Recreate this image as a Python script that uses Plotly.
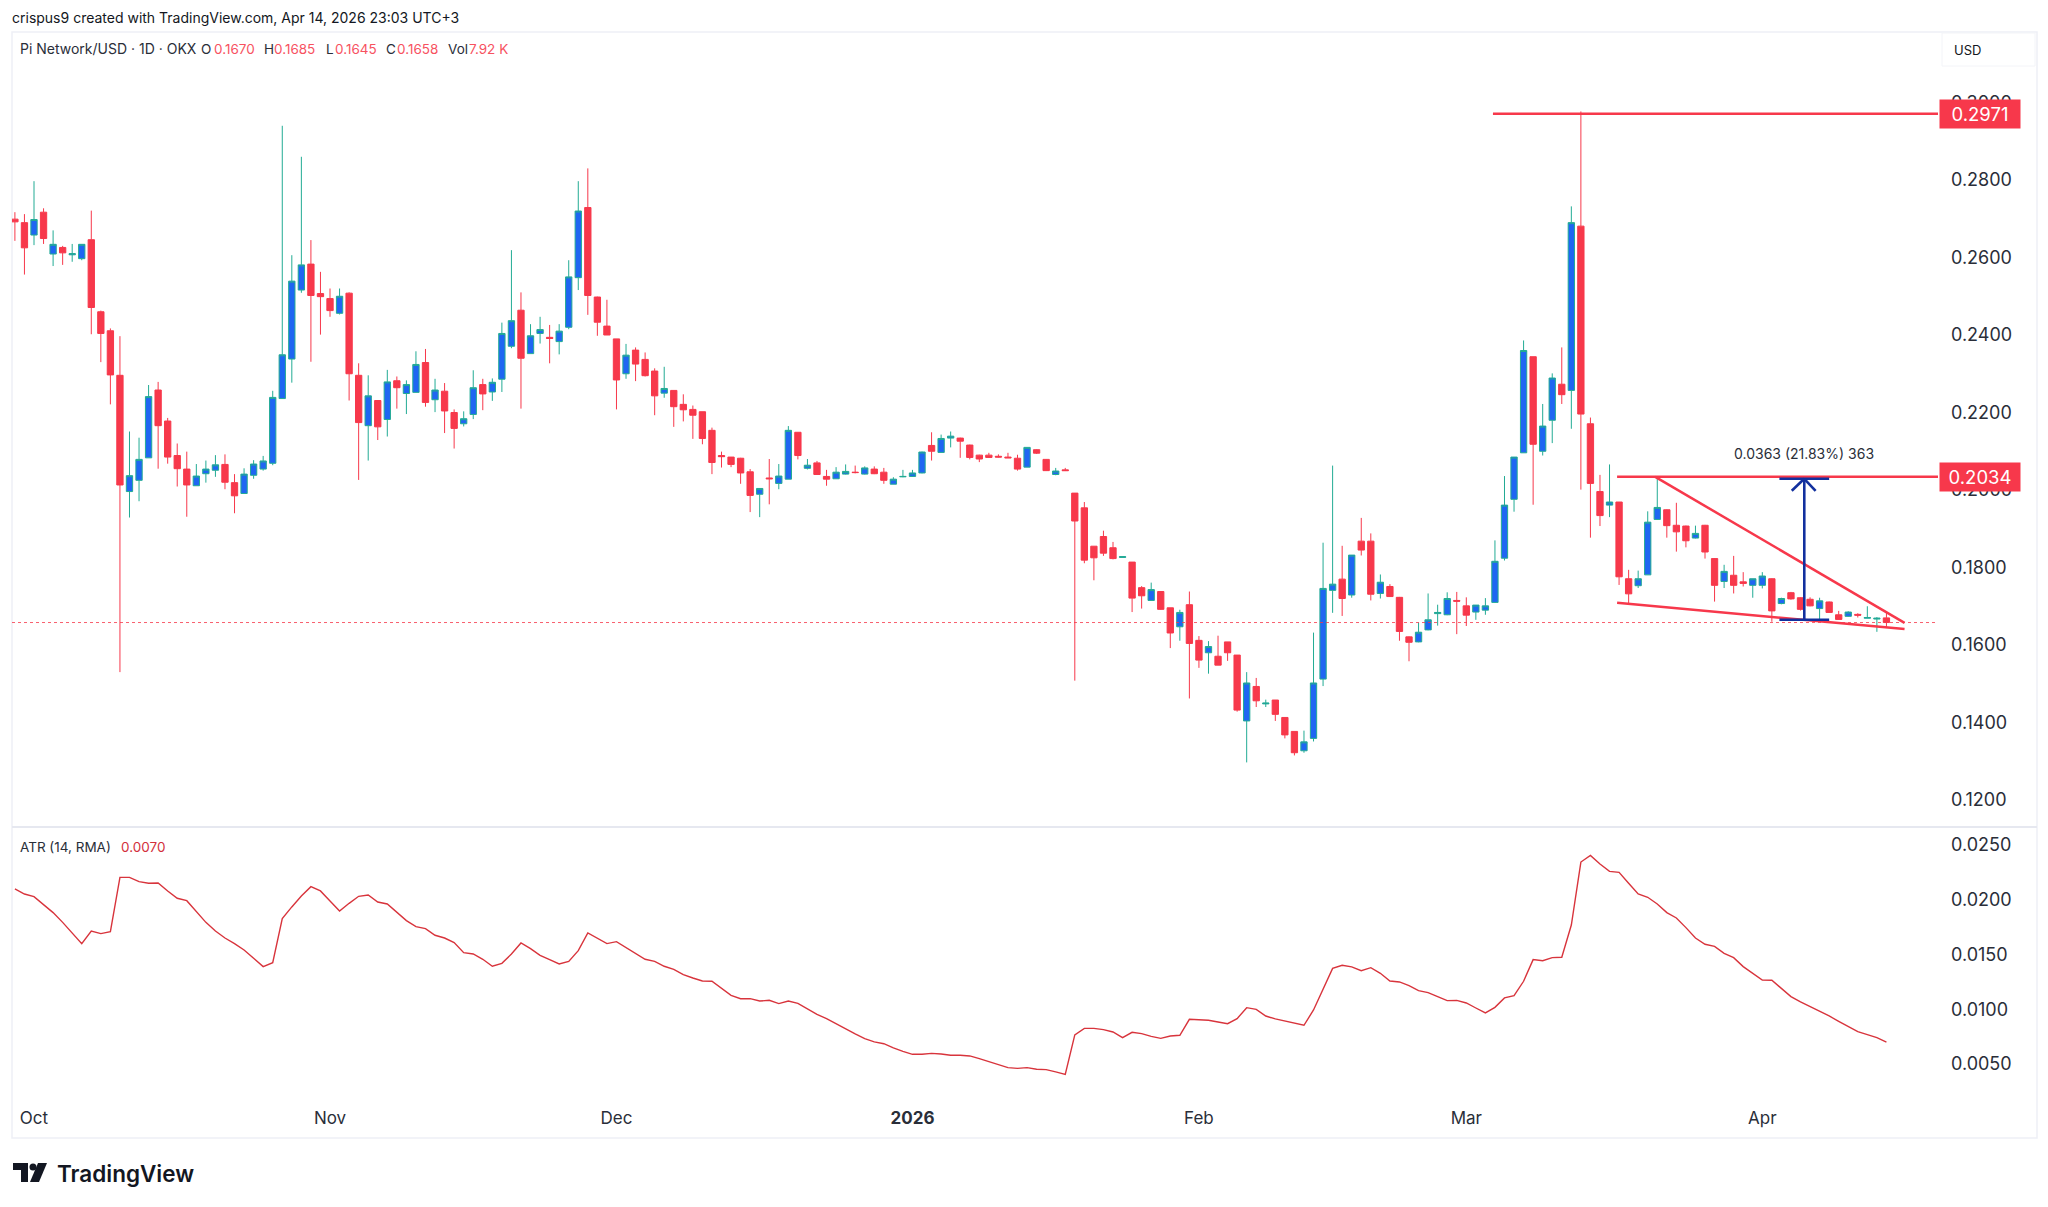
import pandas as pd
import plotly.graph_objects as go
from plotly.subplots import make_subplots

W, H = 2048, 1207
RED = "#F7384B"
BLUE = "#1F66F2"
GREEN = "#22AB94"
NAVY = "#12309E"
TEXT = "#2A2E39"

missing_day = "2026-01-18"
days = pd.date_range("2025-09-29", "2026-04-14")
dates = [d.strftime("%Y-%m-%d") for d in days if d.strftime("%Y-%m-%d") != missing_day]

opens = [
    0.2699, 0.2690, 0.2658, 0.2717, 0.2609, 0.2626, 0.2607, 0.2597, 0.2646, 0.2460,
    0.2411, 0.2296, 0.1996, 0.2025, 0.2083, 0.2258, 0.2178, 0.2089, 0.2054, 0.2011,
    0.2042, 0.2051, 0.2066, 0.2019, 0.1991, 0.2038, 0.2054, 0.2069, 0.2236, 0.2338,
    0.2516, 0.2583, 0.2507, 0.2494, 0.2456, 0.2508, 0.2296, 0.2166, 0.2231, 0.2182,
    0.2282, 0.2249, 0.2252, 0.2329, 0.2233, 0.2255, 0.2200, 0.2171, 0.2195, 0.2272,
    0.2253, 0.2286, 0.2371, 0.2464, 0.2352, 0.2404, 0.2394, 0.2383, 0.2420, 0.2548,
    0.2729, 0.2498, 0.2423, 0.2390, 0.2300, 0.2361, 0.2337, 0.2307, 0.2250, 0.2257,
    0.2221, 0.2208, 0.2202, 0.2154, 0.2089, 0.2085, 0.2082, 0.2047, 0.1989, 0.2031,
    0.2017, 0.2028, 0.2149, 0.2056, 0.2070, 0.2035, 0.2029, 0.2041, 0.2046, 0.2041,
    0.2054, 0.2046, 0.2015, 0.2034, 0.2035, 0.2044, 0.2115, 0.2097, 0.2134, 0.2134,
    0.2116, 0.2090, 0.2090, 0.2087, 0.2085, 0.2082, 0.2059, 0.2104, 0.2079, 0.2040,
    0.2052, 0.1992, 0.1954, 0.1855, 0.1880, 0.1851, 0.1826, 0.1814, 0.1748, 0.1715,
    0.1738, 0.1696, 0.1647, 0.1704, 0.1612, 0.1580, 0.1571, 0.1608, 0.1574, 0.1404,
    0.1493, 0.1448, 0.1458, 0.1413, 0.1377, 0.1327, 0.1359, 0.1512, 0.1741, 0.1770,
    0.1729, 0.1868, 0.1868, 0.1733, 0.1751, 0.1723, 0.1621, 0.1608, 0.1639, 0.1681,
    0.1678, 0.1715, 0.1701, 0.1685, 0.1690, 0.1710, 0.1824, 0.1976, 0.2096, 0.2344,
    0.2100, 0.2180, 0.2273, 0.2257, 0.2681, 0.2171, 0.1996, 0.1961, 0.1969, 0.1771,
    0.1753, 0.1781, 0.1924, 0.1949, 0.1909, 0.1907, 0.1876, 0.1909, 0.1823, 0.1764,
    0.1780, 0.1763, 0.1754, 0.1754, 0.1771, 0.1707, 0.1735, 0.1722, 0.1718, 0.1694,
    0.1711, 0.1678, 0.1674, 0.1679, 0.1669, 0.1667, 0.1670,
]
highs = [
    0.2717, 0.2712, 0.2797, 0.2727, 0.2670, 0.2630, 0.2635, 0.2634, 0.2721, 0.2463,
    0.2417, 0.2397, 0.2151, 0.2135, 0.2271, 0.2279, 0.2186, 0.2120, 0.2099, 0.2067,
    0.2076, 0.2090, 0.2092, 0.2041, 0.2056, 0.2077, 0.2088, 0.2256, 0.2940, 0.2606,
    0.2860, 0.2645, 0.2563, 0.2520, 0.2520, 0.2510, 0.2327, 0.2296, 0.2232, 0.2310,
    0.2293, 0.2283, 0.2358, 0.2364, 0.2287, 0.2276, 0.2208, 0.2203, 0.2309, 0.2287,
    0.2288, 0.2432, 0.2619, 0.2510, 0.2428, 0.2447, 0.2426, 0.2428, 0.2593, 0.2797,
    0.2830, 0.2499, 0.2491, 0.2390, 0.2377, 0.2368, 0.2355, 0.2314, 0.2318, 0.2257,
    0.2247, 0.2218, 0.2202, 0.2161, 0.2099, 0.2085, 0.2083, 0.2054, 0.2004, 0.2080,
    0.2067, 0.2165, 0.2149, 0.2080, 0.2075, 0.2052, 0.2059, 0.2066, 0.2063, 0.2061,
    0.2061, 0.2057, 0.2033, 0.2052, 0.2052, 0.2099, 0.2149, 0.2143, 0.2151, 0.2135,
    0.2117, 0.2091, 0.2096, 0.2092, 0.2096, 0.2091, 0.2110, 0.2105, 0.2080, 0.2057,
    0.2057, 0.1992, 0.1969, 0.1855, 0.1895, 0.1866, 0.1829, 0.1814, 0.1752, 0.1761,
    0.1738, 0.1696, 0.1691, 0.1738, 0.1623, 0.1610, 0.1624, 0.1608, 0.1574, 0.1530,
    0.1515, 0.1459, 0.1458, 0.1413, 0.1377, 0.1379, 0.1632, 0.1864, 0.2063, 0.1856,
    0.1832, 0.1928, 0.1888, 0.1782, 0.1757, 0.1724, 0.1622, 0.1658, 0.1733, 0.1704,
    0.1736, 0.1737, 0.1723, 0.1703, 0.1721, 0.1870, 0.2036, 0.2085, 0.2386, 0.2344,
    0.2222, 0.2301, 0.2368, 0.2732, 0.2977, 0.2187, 0.2039, 0.2066, 0.1969, 0.1794,
    0.1792, 0.1945, 0.2034, 0.1950, 0.1967, 0.1908, 0.1908, 0.1910, 0.1824, 0.1807,
    0.1830, 0.1788, 0.1771, 0.1788, 0.1772, 0.1722, 0.1737, 0.1723, 0.1723, 0.1722,
    0.1712, 0.1688, 0.1687, 0.1682, 0.1700, 0.1672, 0.1685,
]
lows = [
    0.2643, 0.2556, 0.2632, 0.2635, 0.2578, 0.2581, 0.2589, 0.2593, 0.2402, 0.2330,
    0.2221, 0.1530, 0.1929, 0.1971, 0.2083, 0.2055, 0.2068, 0.2009, 0.1931, 0.2011,
    0.2019, 0.2034, 0.2002, 0.1940, 0.1991, 0.2029, 0.2050, 0.2064, 0.2236, 0.2277,
    0.2509, 0.2331, 0.2401, 0.2447, 0.2453, 0.2231, 0.2026, 0.2076, 0.2129, 0.2138,
    0.2210, 0.2196, 0.2252, 0.2215, 0.2201, 0.2147, 0.2107, 0.2164, 0.2183, 0.2206,
    0.2230, 0.2253, 0.2366, 0.2210, 0.2352, 0.2378, 0.2327, 0.2350, 0.2415, 0.2516,
    0.2452, 0.2398, 0.2400, 0.2208, 0.2287, 0.2281, 0.2293, 0.2193, 0.2238, 0.2163,
    0.2177, 0.2132, 0.2118, 0.2041, 0.2058, 0.2059, 0.2016, 0.1943, 0.1930, 0.1963,
    0.2002, 0.2028, 0.2079, 0.2053, 0.2040, 0.2011, 0.2029, 0.2040, 0.2043, 0.2040,
    0.2041, 0.2016, 0.2015, 0.2033, 0.2034, 0.2043, 0.2076, 0.2097, 0.2110, 0.2083,
    0.2079, 0.2072, 0.2083, 0.2084, 0.2083, 0.2050, 0.2059, 0.2093, 0.2049, 0.2038,
    0.2049, 0.1508, 0.1811, 0.1767, 0.1830, 0.1821, 0.1826, 0.1685, 0.1694, 0.1715,
    0.1691, 0.1592, 0.1611, 0.1462, 0.1541, 0.1526, 0.1548, 0.1559, 0.1428, 0.1297,
    0.1440, 0.1440, 0.1404, 0.1359, 0.1315, 0.1322, 0.1351, 0.1494, 0.1683, 0.1675,
    0.1722, 0.1831, 0.1715, 0.1720, 0.1724, 0.1611, 0.1558, 0.1607, 0.1638, 0.1650,
    0.1677, 0.1628, 0.1649, 0.1665, 0.1678, 0.1709, 0.1818, 0.1944, 0.2096, 0.1962,
    0.2089, 0.2121, 0.2222, 0.2158, 0.2001, 0.1877, 0.1907, 0.1930, 0.1755, 0.1704,
    0.1747, 0.1781, 0.1924, 0.1877, 0.1841, 0.1852, 0.1875, 0.1823, 0.1712, 0.1747,
    0.1733, 0.1751, 0.1722, 0.1746, 0.1660, 0.1705, 0.1717, 0.1689, 0.1700, 0.1665,
    0.1683, 0.1665, 0.1673, 0.1671, 0.1669, 0.1634, 0.1645,
]
closes = [
    0.2692, 0.2625, 0.2698, 0.2649, 0.2634, 0.2612, 0.2610, 0.2634, 0.2471, 0.2404,
    0.2297, 0.2013, 0.2037, 0.2079, 0.2241, 0.2166, 0.2085, 0.2055, 0.2013, 0.2036,
    0.2054, 0.2065, 0.2020, 0.1985, 0.2041, 0.2067, 0.2075, 0.2239, 0.2349, 0.2539,
    0.2581, 0.2502, 0.2499, 0.2463, 0.2500, 0.2300, 0.2174, 0.2243, 0.2163, 0.2279,
    0.2264, 0.2272, 0.2324, 0.2226, 0.2258, 0.2204, 0.2159, 0.2184, 0.2264, 0.2248,
    0.2278, 0.2404, 0.2437, 0.2340, 0.2398, 0.2414, 0.2391, 0.2410, 0.2550, 0.2720,
    0.2502, 0.2433, 0.2400, 0.2284, 0.2348, 0.2325, 0.2295, 0.2243, 0.2262, 0.2215,
    0.2207, 0.2193, 0.2133, 0.2071, 0.2086, 0.2066, 0.2044, 0.1986, 0.2004, 0.2029,
    0.2036, 0.2154, 0.2089, 0.2064, 0.2040, 0.2028, 0.2046, 0.2048, 0.2045, 0.2057,
    0.2042, 0.2025, 0.2028, 0.2035, 0.2044, 0.2098, 0.2100, 0.2133, 0.2139, 0.2126,
    0.2084, 0.2080, 0.2084, 0.2085, 0.2083, 0.2054, 0.2110, 0.2095, 0.2050, 0.2049,
    0.2050, 0.1920, 0.1819, 0.1825, 0.1837, 0.1823, 0.1828, 0.1721, 0.1727, 0.1743,
    0.1692, 0.1631, 0.1684, 0.1604, 0.1561, 0.1596, 0.1548, 0.1580, 0.1432, 0.1502,
    0.1456, 0.1450, 0.1421, 0.1368, 0.1322, 0.1350, 0.1502, 0.1746, 0.1757, 0.1720,
    0.1832, 0.1845, 0.1731, 0.1762, 0.1725, 0.1635, 0.1607, 0.1633, 0.1665, 0.1684,
    0.1720, 0.1713, 0.1677, 0.1703, 0.1701, 0.1816, 0.1961, 0.2085, 0.2360, 0.2118,
    0.2165, 0.2289, 0.2246, 0.2690, 0.2196, 0.2017, 0.1934, 0.1969, 0.1776, 0.1732,
    0.1771, 0.1917, 0.1955, 0.1908, 0.1892, 0.1869, 0.1888, 0.1840, 0.1754, 0.1790,
    0.1754, 0.1759, 0.1771, 0.1778, 0.1688, 0.1720, 0.1719, 0.1692, 0.1701, 0.1714,
    0.1684, 0.1666, 0.1685, 0.1677, 0.1671, 0.1669, 0.1658,
]
atr = [
    0.02098, 0.02052, 0.02028, 0.01952, 0.01882, 0.01793, 0.01699, 0.01599, 0.01714, 0.01690,
    0.01708, 0.02204, 0.02204, 0.02165, 0.02150, 0.02153, 0.02080, 0.02013, 0.01991, 0.01891,
    0.01793, 0.01714, 0.01650, 0.01599, 0.01541, 0.01465, 0.01389, 0.01425, 0.01827, 0.01934,
    0.02034, 0.02119, 0.02080, 0.01988, 0.01897, 0.01967, 0.02031, 0.02043, 0.01979, 0.01961,
    0.01882, 0.01809, 0.01754, 0.01736, 0.01675, 0.01650, 0.01608, 0.01516, 0.01504, 0.01456,
    0.01392, 0.01419, 0.01504, 0.01605, 0.01553, 0.01492, 0.01453, 0.01413, 0.01437, 0.01535,
    0.01696, 0.01650, 0.01599, 0.01617, 0.01565, 0.01510, 0.01456, 0.01437, 0.01392, 0.01364,
    0.01316, 0.01285, 0.01258, 0.01255, 0.01191, 0.01127, 0.01096, 0.01096, 0.01075, 0.01081,
    0.01051, 0.01075, 0.01054, 0.01002, 0.00953, 0.00914, 0.00865, 0.00819, 0.00774, 0.00731,
    0.00701, 0.00685, 0.00646, 0.00615, 0.00588, 0.00588, 0.00597, 0.00591, 0.00579, 0.00579,
    0.00573, 0.00548, 0.00521, 0.00494, 0.00466, 0.00460, 0.00466, 0.00451, 0.00448, 0.00427,
    0.00405, 0.00765, 0.00825, 0.00825, 0.00813, 0.00792, 0.00740, 0.00789, 0.00777, 0.00752,
    0.00734, 0.00755, 0.00762, 0.00908, 0.00902, 0.00899, 0.00883, 0.00868, 0.00914, 0.01014,
    0.00999, 0.00938, 0.00911, 0.00892, 0.00871, 0.00853, 0.00993, 0.01191, 0.01373, 0.01401,
    0.01386, 0.01352, 0.01379, 0.01328, 0.01258, 0.01249, 0.01215, 0.01169, 0.01151, 0.01115,
    0.01078, 0.01081, 0.01057, 0.01011, 0.00966, 0.01017, 0.01103, 0.01124, 0.01255, 0.01453,
    0.01443, 0.01471, 0.01474, 0.01769, 0.02344, 0.02405, 0.02326, 0.02259, 0.02250, 0.02150,
    0.02052, 0.02022, 0.01961, 0.01882, 0.01833, 0.01745, 0.01650, 0.01593, 0.01574, 0.01510,
    0.01471, 0.01389, 0.01328, 0.01267, 0.01264, 0.01191, 0.01115, 0.01066, 0.01023, 0.00987,
    0.00938, 0.00889, 0.00841, 0.00795, 0.00768, 0.00740, 0.00700,
]
assert len(dates) == len(opens) == len(highs) == len(lows) == len(closes) == len(atr)

price_ticks = [0.12, 0.14, 0.16, 0.18, 0.20, 0.22, 0.24, 0.26, 0.28, 0.30]
atr_ticks = [0.005, 0.010, 0.015, 0.020, 0.025]
month_ticks = ["2025-10-01", "2025-11-01", "2025-12-01", "2026-01-01", "2026-02-01", "2026-03-01", "2026-04-01"]
month_labels = ["Oct", "Nov", "Dec", "<b>2026</b>", "Feb", "Mar", "Apr"]

# drawings on the chart
last_close = 0.1658
high_level = 0.2971
upper_level = 0.2034
wedge_top = (["2026-03-20 19:00", "2026-04-15 21:30"], [0.2034, 0.1657])
wedge_bottom = (["2026-03-16 19:00", "2026-04-15 21:30"], [0.1709, 0.1641])
measure_x = "2026-04-05 09:30"
measure_from, measure_to = 0.1665, 0.2029
measure_left, measure_right = "2026-04-02 19:00", "2026-04-08 00:00"
head_left, head_right = "2026-04-04 02:00", "2026-04-06 14:00"
head_y = 0.1998
x_start, x_end = "2025-09-28 16:42", "2026-04-19 09:36"


def px(x):
    return x / W


def py(y):
    return 1 - y / H


fig = make_subplots(rows=2, cols=1, shared_xaxes=True)

fig.add_trace(go.Candlestick(x=dates, open=opens, high=highs, low=lows, close=closes,
                             increasing=dict(line=dict(color=GREEN, width=1), fillcolor=BLUE),
                             decreasing=dict(line=dict(color=RED, width=1), fillcolor=RED),
                             hoverinfo="skip", showlegend=False), row=1, col=1)
fig.add_trace(go.Scatter(x=dates, y=atr, mode="lines", line=dict(color="#D8343C", width=1.4),
                         hoverinfo="skip", showlegend=False), row=2, col=1)

# frame around the panes
frame = "#EEF0F6"
fig.add_shape(type="rect", xref="paper", yref="paper", x0=px(12), x1=px(2037), y0=py(1138), y1=py(32),
              line=dict(color=frame, width=1.5), layer="below")
fig.add_shape(type="line", xref="paper", yref="paper", x0=px(12), x1=px(2037), y0=py(827), y1=py(827),
              line=dict(color="#E6E8F0", width=2), layer="below")
fig.add_shape(type="rect", xref="paper", yref="paper", x0=px(1942), x1=px(2035), y0=py(66), y1=py(33),
              line=dict(color="#F3F4F8", width=1), layer="below")

# price lines and wedge
fig.add_shape(type="line", xref="x domain", yref="y", x0=0, x1=1, y0=last_close, y1=last_close,
              opacity=0.8, line=dict(color=RED, width=1, dash="dot"))
for start, level in [("2026-03-03 19:00", high_level), ("2026-03-16 19:00", upper_level)]:
    fig.add_shape(type="line", xref="x", yref="y", x0=start, x1=x_end, y0=level, y1=level,
                  line=dict(color=RED, width=2.5))
for xs, ys in [wedge_top, wedge_bottom]:
    fig.add_shape(type="line", xref="x", yref="y", x0=xs[0], x1=xs[1], y0=ys[0], y1=ys[1],
                  line=dict(color=RED, width=2.5))

# measuring arrow
navy = dict(color=NAVY, width=2.6)
fig.add_shape(type="line", xref="x", yref="y", x0=measure_x, x1=measure_x, y0=measure_from, y1=measure_to, line=navy)
for level in [measure_from, measure_to]:
    fig.add_shape(type="line", xref="x", yref="y", x0=measure_left, x1=measure_right, y0=level, y1=level, line=navy)
for side in [head_left, head_right]:
    fig.add_shape(type="line", xref="x", yref="y", x0=side, x1=measure_x, y0=head_y, y1=measure_to, line=navy)

# TradingView mark, bottom left
for path in ["M 13 1163 L 28 1163 L 28 1182 L 21 1182 L 21 1170 L 13 1170 Z",
             "M 38 1163 L 47 1163 L 39 1182 L 30 1182 Z"]:
    parts = path.split()
    out = []
    i = 0
    while i < len(parts):
        if parts[i] in "ML":
            out.append(f"{parts[i]} {px(float(parts[i + 1]))} {py(float(parts[i + 2]))}")
            i += 3
        else:
            out.append(parts[i])
            i += 1
    fig.add_shape(type="path", xref="paper", yref="paper", path=" ".join(out),
                  fillcolor="#131722", line=dict(width=0))
fig.add_shape(type="circle", xref="paper", yref="paper", x0=px(29.5), x1=px(36.5), y0=py(1170.5), y1=py(1163.5),
              fillcolor="#131722", line=dict(width=0))


def note(x, y, text, size=14, color=TEXT, **kw):
    fig.add_annotation(xref="paper", yref="paper", x=px(x), y=py(y), text=text, showarrow=False,
                       xanchor=kw.pop("xanchor", "left"), yanchor="middle",
                       font=dict(family="Inter", size=size, color=color, weight=kw.pop("weight", "normal")), **kw)


legend_red = "#F7525F"
note(10, 18, "crispus9 created with TradingView.com, Apr 14, 2026 23:03 UTC+3", size=14, color="#131722")
note(18, 49, "Pi Network/USD · 1D · OKX", size=14)
for x, label, vx, value in [(199, "O", 212, "0.1670"), (262, "H", 272, "0.1685"), (324, "L", 332.5, "0.1645"),
                            (384, "C", 395, "0.1658"), (446, "Vol", 466.5, "7.92 K")]:
    note(x, 49, label, size=13.5)
    note(vx, 49, value, size=13.5, color=legend_red)
note(18, 847, "ATR (14, RMA)", size=13.5)
note(119, 847, "0.0070", size=13.5, color="#D32F3C")
note(1967, 50, "USD", size=13, xanchor="center", color="#131722")
note(1804, 453, "0.0363 (21.83%) 363", size=14, xanchor="center")
note(55, 1173, "TradingView", size=22.5, color="#131722", weight=600)

# value labels on the price scale
for level in [high_level, upper_level]:
    fig.add_annotation(xref="paper", yref="y", x=px(1939), y=level, text=f"{level:.4f}", showarrow=False,
                       xanchor="left", yanchor="middle", width=78, height=26, align="center", bgcolor=RED,
                       font=dict(family="Inter", size=18.5, color="white"))

fig.update_layout(width=W, height=H, margin=dict(l=0, r=0, t=0, b=0), paper_bgcolor="white", plot_bgcolor="white",
                  hovermode=False, dragmode=False, showlegend=False, boxgap=0.34, boxgroupgap=0,
                  font=dict(family="Inter", color=TEXT))

axis_font = dict(family="Inter", size=18, color=TEXT)
fig.update_xaxes(domain=[px(12), px(1938)], range=[x_start, x_end], showgrid=False, zeroline=False, showline=False,
                 rangeslider_visible=False, rangebreaks=[dict(values=[missing_day])], ticks="",
                 tickmode="array", tickvals=month_ticks, ticktext=month_labels)
fig.update_xaxes(showticklabels=False, row=1, col=1)
fig.update_xaxes(showticklabels=True, tickfont=dict(family="Inter", size=17, color=TEXT), ticklabelstandoff=8,
                 row=2, col=1)
fig.update_yaxes(side="right", showgrid=False, zeroline=False, showline=False, ticks="", tickfont=axis_font,
                 ticklabelstandoff=12, tickmode="array", tickformat=".4f")
fig.update_yaxes(domain=[py(827), py(32)], range=[0.11303, 0.3182], tickvals=price_ticks, row=1, col=1)
fig.update_yaxes(domain=[py(1098), py(827)], range=[0.00189, 0.02664], tickvals=atr_ticks, row=2, col=1)

# the browser's default body margin would push the figure off by 8px
fig.write_html("out.html", config=dict(displayModeBar=False),
               post_script="document.body.style.margin = '0';")
